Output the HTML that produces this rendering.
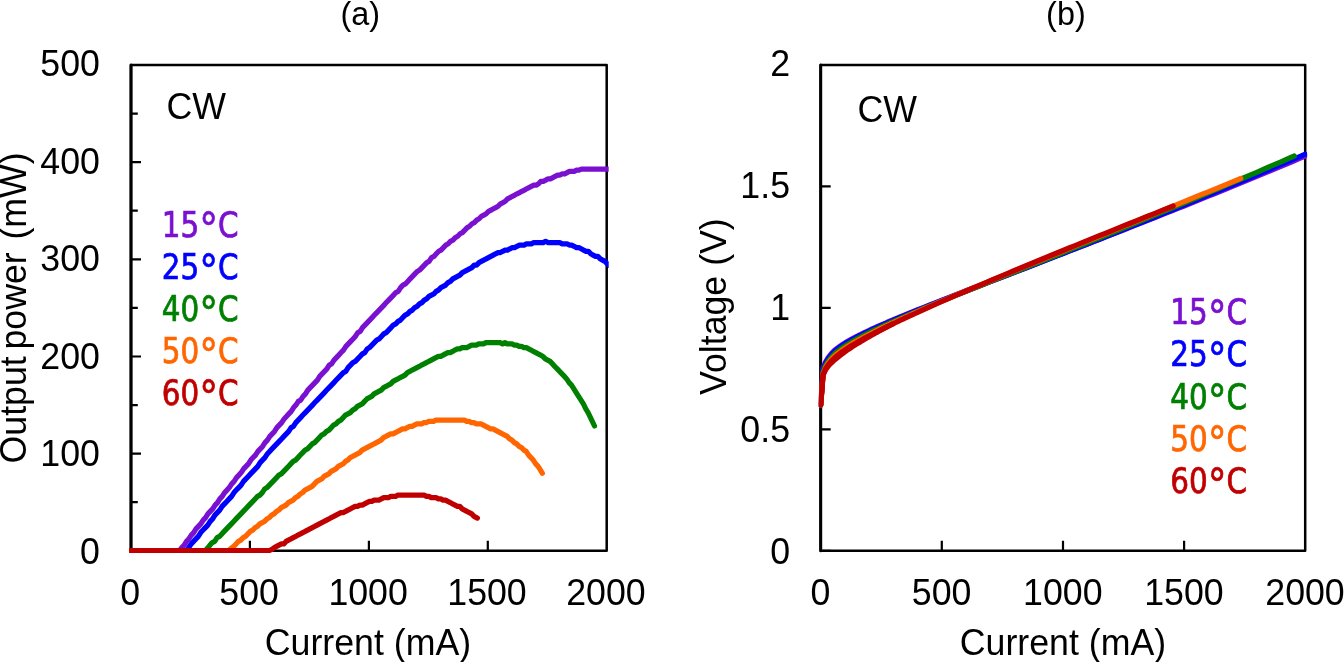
<!DOCTYPE html>
<html lang="en"><head><meta charset="utf-8"><title>L-I and V-I characteristics</title>
<style>html,body{margin:0;padding:0;background:#fff;overflow:hidden}svg{display:block}text{font-family:"Liberation Sans",sans-serif;fill:#000}.lg{font-family:"DejaVu Sans","Liberation Sans",sans-serif;font-stretch:condensed}</style></head><body>
<svg width="1344" height="662" viewBox="0 0 1344 662">
<rect width="1344" height="662" fill="#fff"/>
<defs><clipPath id="ca"><rect x="129.1" y="63.0" width="479.6" height="490.0"/></clipPath><clipPath id="cb"><rect x="818.8" y="63.0" width="488.4" height="490.0"/></clipPath></defs>
<g id="plot-a">
<rect x="131.0" y="65.0" width="475.7" height="485.8" fill="none" stroke="#000" stroke-width="2.5" stroke-linejoin="round"/>
<path d="M131.0,65.0V550.8" stroke="#000" stroke-width="3" stroke-linecap="round" fill="none"/>
<path d="M131.0,550.8h10.0M131.0,453.6h10.0M131.0,356.5h10.0M131.0,259.3h10.0M131.0,162.2h10.0M131.0,65.0h10.0M131.0,502.2h6.8M131.0,405.1h6.8M131.0,307.9h6.8M131.0,210.7h6.8M131.0,113.6h6.8M249.9,550.8v-10.0M368.9,550.8v-10.0M487.8,550.8v-10.0" stroke="#000" stroke-width="2.2" fill="none"/>
<text transform="translate(99.9,563.9) scale(0.945,1)" font-size="37.8" text-anchor="end">0</text>
<text transform="translate(99.9,466.4) scale(0.945,1)" font-size="37.8" text-anchor="end">100</text>
<text transform="translate(99.9,368.9) scale(0.945,1)" font-size="37.8" text-anchor="end">200</text>
<text transform="translate(99.9,271.3) scale(0.945,1)" font-size="37.8" text-anchor="end">300</text>
<text transform="translate(99.9,173.8) scale(0.945,1)" font-size="37.8" text-anchor="end">400</text>
<text transform="translate(99.9,76.3) scale(0.945,1)" font-size="37.8" text-anchor="end">500</text>
<text transform="translate(130.2,605.3) scale(0.945,1)" font-size="37.8" text-anchor="middle">0</text>
<text transform="translate(249.1,605.3) scale(0.945,1)" font-size="37.8" text-anchor="middle">500</text>
<text transform="translate(368.1,605.3) scale(0.945,1)" font-size="37.8" text-anchor="middle">1000</text>
<text transform="translate(487.0,605.3) scale(0.945,1)" font-size="37.8" text-anchor="middle">1500</text>
<text transform="translate(605.9,605.3) scale(0.945,1)" font-size="37.8" text-anchor="middle">2000</text>
<text transform="translate(368.0,654.8) scale(0.945,1)" font-size="37.8" text-anchor="middle">Current (mA)</text>
<text transform="translate(26.0,463.5) rotate(-90) scale(0.945,1)" font-size="37.8">Output<tspan dx="-3.4"> power</tspan><tspan dx="3.0"> (mW)</tspan></text>
<text transform="translate(360.3,25.4) scale(1.0,1)" font-size="32.4" text-anchor="middle">(a)</text>
<text transform="translate(166.4,118.6) scale(0.945,1)" font-size="37.8">CW</text>
<g clip-path="url(#ca)" fill="none" stroke-width="5.2" stroke-linejoin="round" stroke-linecap="round">
<path d="M126.0,550.5 L179.4,550.5 L181.8,547.5 L184.2,545.1 L186.5,541.4 L188.9,538.9 L191.3,535.1 L193.7,532.6 L196.0,528.9 L198.4,526.4 L200.8,523.9 L203.2,520.1 L205.6,517.6 L207.9,513.9 L210.3,511.4 L212.7,508.9 L215.1,505.1 L217.5,502.6 L219.8,498.9 L222.2,496.4 L224.6,492.6 L227.0,490.1 L229.3,487.6 L231.7,483.9 L234.1,481.4 L236.5,477.6 L238.9,475.1 L241.2,472.6 L243.6,468.9 L246.0,466.4 L248.4,463.9 L250.8,460.1 L253.1,457.6 L255.5,455.1 L257.9,451.4 L260.3,448.9 L262.6,446.4 L265.0,442.6 L267.4,440.1 L269.8,436.4 L272.2,433.9 L274.5,431.4 L276.9,427.6 L279.3,425.1 L281.7,422.6 L284.1,418.9 L286.4,416.4 L288.8,413.9 L291.2,411.4 L293.6,407.6 L295.9,405.1 L298.3,401.4 L300.7,400.1 L303.1,396.4 L305.5,393.9 L307.8,390.1 L310.2,387.6 L312.6,385.1 L315.0,382.6 L317.4,380.1 L319.7,376.4 L322.1,373.9 L324.5,371.4 L326.9,368.9 L329.2,365.1 L331.6,363.9 L334.0,360.1 L336.4,357.6 L338.8,355.1 L341.1,352.6 L343.5,350.1 L345.9,346.4 L348.3,343.9 L350.7,341.4 L353.0,338.9 L355.4,336.4 L357.8,332.6 L360.2,331.4 L362.5,327.6 L364.9,325.1 L367.3,322.6 L369.7,320.1 L372.1,317.6 L374.4,315.1 L376.8,312.6 L379.2,310.1 L381.6,307.6 L384.0,305.1 L386.3,302.6 L388.7,300.1 L391.1,297.6 L393.5,295.1 L395.8,292.6 L398.2,291.4 L400.6,287.6 L403.0,285.1 L405.4,283.9 L407.7,281.4 L410.1,278.9 L412.5,276.4 L414.9,273.9 L417.3,271.4 L419.6,270.1 L422.0,267.6 L424.4,265.1 L426.8,262.6 L429.1,261.4 L431.5,257.6 L433.9,256.4 L436.3,253.8 L438.7,251.3 L441.0,250.1 L443.4,247.6 L445.8,245.1 L448.2,243.8 L450.5,241.3 L452.9,240.1 L455.3,237.6 L457.7,236.3 L460.1,233.8 L462.4,232.6 L464.8,230.1 L467.2,227.6 L469.6,226.3 L472.0,223.8 L474.3,222.6 L476.7,220.1 L479.1,218.8 L481.5,216.3 L483.8,215.1 L486.2,213.8 L488.6,211.3 L491.0,210.1 L493.4,208.8 L495.7,207.6 L498.1,206.3 L500.5,203.8 L502.9,202.6 L505.3,201.3 L507.6,198.8 L510.0,197.6 L512.4,196.3 L514.8,195.1 L517.1,193.8 L519.5,192.6 L521.9,191.3 L524.3,190.1 L526.7,188.8 L529.0,187.6 L531.4,186.3 L533.8,185.1 L536.2,185.1 L538.6,183.8 L540.9,181.3 L543.3,181.3 L545.7,180.1 L548.1,178.8 L550.4,178.8 L552.8,177.6 L555.2,176.3 L557.6,175.1 L560.0,175.1 L562.3,173.8 L564.7,173.8 L567.1,172.6 L569.5,171.3 L571.9,171.3 L574.2,171.3 L576.6,170.1 L579.0,170.1 L581.4,169.1 L583.7,169.1 L586.1,169.1 L588.5,169.1 L590.9,169.1 L593.3,169.1 L595.6,169.1 L598.0,169.1 L600.4,169.1 L602.8,169.1 L605.2,169.1 L607.5,169.1 L609.7,169.1" stroke="#7a10d0"/>
<path d="M126.0,550.5 L186.4,550.5 L188.8,547.5 L191.2,543.9 L193.5,541.4 L195.9,538.9 L198.3,536.4 L200.7,532.6 L203.0,530.1 L205.4,527.6 L207.8,525.1 L210.2,521.4 L212.6,518.9 L214.9,515.1 L217.3,512.6 L219.7,510.1 L222.1,506.4 L224.5,503.9 L226.8,501.4 L229.2,498.9 L231.6,496.4 L234.0,492.6 L236.3,490.1 L238.7,487.6 L241.1,485.1 L243.5,481.4 L245.9,478.9 L248.2,476.4 L250.6,473.9 L253.0,471.4 L255.4,468.9 L257.8,466.4 L260.1,462.6 L262.5,460.1 L264.9,457.6 L267.3,453.9 L269.6,451.4 L272.0,448.9 L274.4,446.4 L276.8,443.9 L279.2,441.4 L281.5,438.9 L283.9,436.4 L286.3,433.9 L288.7,431.4 L291.1,427.6 L293.4,426.4 L295.8,422.6 L298.2,420.1 L300.6,417.6 L302.9,415.1 L305.3,412.6 L307.7,410.1 L310.1,407.6 L312.5,405.1 L314.8,402.6 L317.2,400.1 L319.6,397.6 L322.0,395.1 L324.4,392.6 L326.7,390.1 L329.1,387.6 L331.5,385.1 L333.9,382.6 L336.2,380.1 L338.6,377.6 L341.0,375.1 L343.4,372.6 L345.8,371.4 L348.1,367.6 L350.5,365.1 L352.9,362.6 L355.3,361.4 L357.7,358.9 L360.0,356.4 L362.4,353.9 L364.8,352.6 L367.2,348.9 L369.5,347.6 L371.9,345.1 L374.3,342.6 L376.7,340.1 L379.1,338.9 L381.4,336.4 L383.8,333.9 L386.2,332.6 L388.6,330.1 L391.0,327.6 L393.3,325.1 L395.7,323.9 L398.1,321.4 L400.5,320.1 L402.8,317.6 L405.2,315.1 L407.6,313.9 L410.0,311.4 L412.4,310.1 L414.7,307.6 L417.1,306.4 L419.5,303.9 L421.9,302.6 L424.3,300.1 L426.6,298.9 L429.0,296.4 L431.4,295.1 L433.8,293.9 L436.1,291.4 L438.5,290.1 L440.9,287.6 L443.3,286.4 L445.7,285.1 L448.0,282.6 L450.4,281.4 L452.8,278.9 L455.2,277.6 L457.5,276.4 L459.9,275.1 L462.3,272.6 L464.7,271.4 L467.1,270.1 L469.4,268.9 L471.8,267.6 L474.2,265.1 L476.6,265.1 L479.0,262.6 L481.3,261.4 L483.7,260.1 L486.1,258.9 L488.5,257.6 L490.8,256.4 L493.2,255.1 L495.6,253.8 L498.0,252.6 L500.4,252.6 L502.7,251.3 L505.1,250.1 L507.5,250.1 L509.9,248.8 L512.3,247.6 L514.6,247.6 L517.0,246.3 L519.4,245.1 L521.8,245.1 L524.1,245.1 L526.5,243.8 L528.9,243.8 L531.3,243.8 L533.7,242.6 L536.0,242.6 L538.4,242.6 L540.8,242.6 L543.2,242.6 L545.6,241.3 L547.9,242.6 L550.3,242.6 L552.7,242.6 L555.1,242.6 L557.4,242.6 L559.8,242.6 L562.2,243.8 L564.6,243.8 L567.0,243.8 L569.3,245.1 L571.7,245.1 L574.1,246.3 L576.5,247.6 L578.9,247.6 L581.2,248.8 L583.6,250.1 L586.0,251.3 L588.4,251.3 L590.7,253.8 L593.1,255.1 L595.5,256.4 L597.9,256.4 L600.3,258.9 L602.6,260.1 L605.0,261.4 L607.4,263.9 L609.7,265.5" stroke="#0000ff"/>
<path d="M126.0,550.5 L205.2,550.5 L207.6,548.1 L210.0,545.1 L212.3,542.6 L214.7,541.4 L217.1,537.6 L219.5,536.4 L221.8,533.9 L224.2,531.4 L226.6,528.9 L229.0,526.4 L231.4,523.9 L233.7,521.4 L236.1,518.9 L238.5,516.4 L240.9,513.9 L243.3,511.4 L245.6,508.9 L248.0,506.4 L250.4,503.9 L252.8,501.4 L255.1,498.9 L257.5,496.4 L259.9,495.1 L262.3,492.6 L264.7,488.9 L267.0,487.6 L269.4,485.1 L271.8,482.6 L274.2,480.1 L276.6,477.6 L278.9,475.1 L281.3,473.9 L283.7,471.4 L286.1,468.9 L288.4,466.4 L290.8,463.9 L293.2,461.4 L295.6,460.1 L298.0,457.6 L300.3,455.1 L302.7,452.6 L305.1,450.1 L307.5,448.9 L309.9,446.4 L312.2,443.9 L314.6,442.6 L317.0,440.1 L319.4,437.6 L321.7,435.1 L324.1,433.9 L326.5,431.4 L328.9,430.1 L331.3,427.6 L333.6,425.1 L336.0,423.9 L338.4,421.4 L340.8,420.1 L343.2,417.6 L345.5,415.1 L347.9,413.9 L350.3,412.6 L352.7,410.1 L355.0,408.9 L357.4,406.4 L359.8,405.1 L362.2,403.9 L364.6,401.4 L366.9,398.9 L369.3,397.6 L371.7,396.4 L374.1,393.9 L376.5,392.6 L378.8,391.4 L381.2,390.1 L383.6,387.6 L386.0,386.4 L388.3,385.1 L390.7,383.9 L393.1,381.4 L395.5,380.1 L397.9,378.9 L400.2,377.6 L402.6,376.4 L405.0,375.1 L407.4,372.6 L409.8,371.4 L412.1,370.1 L414.5,368.9 L416.9,367.6 L419.3,366.4 L421.6,365.1 L424.0,363.9 L426.4,362.6 L428.8,361.4 L431.2,360.1 L433.5,358.9 L435.9,357.6 L438.3,356.4 L440.7,356.4 L443.1,355.1 L445.4,353.9 L447.8,352.6 L450.2,352.6 L452.6,351.4 L454.9,350.1 L457.3,348.9 L459.7,348.9 L462.1,347.6 L464.5,347.6 L466.8,347.6 L469.2,346.4 L471.6,345.1 L474.0,345.1 L476.3,345.1 L478.7,343.9 L481.1,343.9 L483.5,343.9 L485.9,342.6 L488.2,342.6 L490.6,342.6 L493.0,342.6 L495.4,342.6 L497.8,342.6 L500.1,342.6 L502.5,343.9 L504.9,342.6 L507.3,343.9 L509.6,343.9 L512.0,343.9 L514.4,345.1 L516.8,345.1 L519.2,346.4 L521.5,346.4 L523.9,347.6 L526.3,347.6 L528.7,348.9 L531.1,350.1 L533.4,351.4 L535.8,352.6 L538.2,353.9 L540.6,355.1 L542.9,356.4 L545.3,358.9 L547.7,360.1 L550.1,361.4 L552.5,363.9 L554.8,366.4 L557.2,368.9 L559.6,371.4 L562.0,373.9 L564.4,376.4 L566.7,378.9 L569.1,382.6 L571.5,385.1 L573.9,388.9 L576.2,392.6 L578.6,396.4 L581.0,400.1 L583.4,403.9 L585.8,408.9 L588.1,412.6 L590.5,417.6 L592.9,422.6 L594.5,426.0" stroke="#008000"/>
<path d="M126.0,550.5 L228.9,550.5 L231.3,548.2 L233.7,546.4 L236.0,543.9 L238.4,541.4 L240.8,540.1 L243.2,537.6 L245.5,536.4 L247.9,533.9 L250.3,531.4 L252.7,530.1 L255.1,527.6 L257.4,526.4 L259.8,523.9 L262.2,522.6 L264.6,521.4 L267.0,518.9 L269.3,517.6 L271.7,515.1 L274.1,513.9 L276.5,511.4 L278.8,510.1 L281.2,507.6 L283.6,506.4 L286.0,505.1 L288.4,502.6 L290.7,501.4 L293.1,500.1 L295.5,497.6 L297.9,496.4 L300.3,493.9 L302.6,492.6 L305.0,490.1 L307.4,488.9 L309.8,487.6 L312.1,486.4 L314.5,483.9 L316.9,481.4 L319.3,480.1 L321.7,478.9 L324.0,476.4 L326.4,475.1 L328.8,473.9 L331.2,471.4 L333.6,470.1 L335.9,468.9 L338.3,466.4 L340.7,465.1 L343.1,463.9 L345.4,461.4 L347.8,460.1 L350.2,457.6 L352.6,456.4 L355.0,455.1 L357.3,453.9 L359.7,452.6 L362.1,450.1 L364.5,448.9 L366.9,447.6 L369.2,446.4 L371.6,445.1 L374.0,443.9 L376.4,442.6 L378.7,441.4 L381.1,440.1 L383.5,437.6 L385.9,436.4 L388.3,435.1 L390.6,433.9 L393.0,433.9 L395.4,432.6 L397.8,431.4 L400.2,430.1 L402.5,428.9 L404.9,428.9 L407.3,427.6 L409.7,426.4 L412.0,426.4 L414.4,425.1 L416.8,423.9 L419.2,423.9 L421.6,423.9 L423.9,422.6 L426.3,422.6 L428.7,421.4 L431.1,421.4 L433.5,421.4 L435.8,420.1 L438.2,420.1 L440.6,420.1 L443.0,420.1 L445.3,420.1 L447.7,420.1 L450.1,420.1 L452.5,420.1 L454.9,420.1 L457.2,420.1 L459.6,420.1 L462.0,420.1 L464.4,420.1 L466.8,421.4 L469.1,421.4 L471.5,422.6 L473.9,422.6 L476.3,423.9 L478.6,423.9 L481.0,423.9 L483.4,425.1 L485.8,426.4 L488.2,427.6 L490.5,428.9 L492.9,428.9 L495.3,430.1 L497.7,431.4 L500.0,432.6 L502.4,433.9 L504.8,435.1 L507.2,436.4 L509.6,438.9 L511.9,440.1 L514.3,442.6 L516.7,443.9 L519.1,446.4 L521.5,447.6 L523.8,450.1 L526.2,451.4 L528.6,455.1 L531.0,457.6 L533.3,460.1 L535.7,463.9 L538.1,466.4 L540.5,470.1 L542.4,473.3" stroke="#ff6600"/>
<path d="M126.0,550.5 L269.5,550.5 L271.9,549.3 L274.3,547.6 L276.6,546.4 L279.0,545.1 L281.4,543.9 L283.8,543.9 L286.1,541.4 L288.5,540.1 L290.9,538.9 L293.3,537.6 L295.7,536.4 L298.0,535.1 L300.4,533.9 L302.8,532.6 L305.2,531.4 L307.6,530.1 L309.9,528.9 L312.3,527.6 L314.7,526.4 L317.1,525.1 L319.4,523.9 L321.8,522.6 L324.2,521.4 L326.6,520.1 L329.0,518.9 L331.3,517.6 L333.7,516.4 L336.1,515.1 L338.5,513.9 L340.9,512.6 L343.2,512.6 L345.6,511.4 L348.0,510.1 L350.4,508.9 L352.7,507.6 L355.1,506.4 L357.5,506.4 L359.9,505.1 L362.3,505.1 L364.6,503.9 L367.0,502.6 L369.4,501.4 L371.8,501.4 L374.2,500.1 L376.5,500.1 L378.9,500.1 L381.3,498.9 L383.7,497.6 L386.0,497.6 L388.4,497.6 L390.8,496.4 L393.2,496.4 L395.6,496.4 L397.9,495.1 L400.3,495.1 L402.7,495.1 L405.1,495.1 L407.5,495.1 L409.8,495.1 L412.2,495.1 L414.6,495.1 L417.0,495.1 L419.3,495.1 L421.7,495.1 L424.1,495.1 L426.5,496.4 L428.9,496.4 L431.2,497.6 L433.6,497.6 L436.0,497.6 L438.4,498.9 L440.8,498.9 L443.1,500.1 L445.5,500.1 L447.9,501.4 L450.3,502.6 L452.6,503.9 L455.0,505.1 L457.4,506.4 L459.8,506.4 L462.2,508.9 L464.5,510.1 L466.9,511.4 L469.3,512.6 L471.7,513.9 L474.1,516.4 L476.4,517.6 L477.4,518.1" stroke="#c00000"/>
</g>
<text transform="translate(161.7,236.8) scale(0.94,1)" font-size="34.8" class="lg" style="fill:#7a10d0;stroke:#7a10d0;stroke-width:0.7">15<tspan font-size="44.5" dy="7.2">°</tspan><tspan dy="-7.2">C</tspan></text>
<text transform="translate(161.7,278.9) scale(0.94,1)" font-size="34.8" class="lg" style="fill:#0000ff;stroke:#0000ff;stroke-width:0.7">25<tspan font-size="44.5" dy="7.2">°</tspan><tspan dy="-7.2">C</tspan></text>
<text transform="translate(161.7,321.0) scale(0.94,1)" font-size="34.8" class="lg" style="fill:#008000;stroke:#008000;stroke-width:0.7">40<tspan font-size="44.5" dy="7.2">°</tspan><tspan dy="-7.2">C</tspan></text>
<text transform="translate(161.7,363.1) scale(0.94,1)" font-size="34.8" class="lg" style="fill:#ff6600;stroke:#ff6600;stroke-width:0.7">50<tspan font-size="44.5" dy="7.2">°</tspan><tspan dy="-7.2">C</tspan></text>
<text transform="translate(161.7,405.2) scale(0.94,1)" font-size="34.8" class="lg" style="fill:#c00000;stroke:#c00000;stroke-width:0.7">60<tspan font-size="44.5" dy="7.2">°</tspan><tspan dy="-7.2">C</tspan></text>
</g>
<g id="plot-b">
<rect x="820.7" y="65.0" width="484.5" height="485.8" fill="none" stroke="#000" stroke-width="2.5" stroke-linejoin="round"/>
<path d="M820.7,65.0V550.8" stroke="#000" stroke-width="3" stroke-linecap="round" fill="none"/>
<path d="M820.7,550.8h10.0M820.7,429.3h10.0M820.7,307.9h10.0M820.7,186.4h10.0M820.7,65.0h10.0M941.8,550.8v-10.0M1063.0,550.8v-10.0M1184.1,550.8v-10.0" stroke="#000" stroke-width="2.2" fill="none"/>
<text transform="translate(790.0,563.9) scale(0.945,1)" font-size="37.8" text-anchor="end">0</text>
<text transform="translate(790.0,442.0) scale(0.945,1)" font-size="37.8" text-anchor="end">0.5</text>
<text transform="translate(790.0,320.1) scale(0.945,1)" font-size="37.8" text-anchor="end">1</text>
<text transform="translate(790.0,198.2) scale(0.945,1)" font-size="37.8" text-anchor="end">1.5</text>
<text transform="translate(790.0,76.3) scale(0.945,1)" font-size="37.8" text-anchor="end">2</text>
<text transform="translate(820.5,605.2) scale(0.945,1)" font-size="37.8" text-anchor="middle">0</text>
<text transform="translate(941.6,605.2) scale(0.945,1)" font-size="37.8" text-anchor="middle">500</text>
<text transform="translate(1062.8,605.2) scale(0.945,1)" font-size="37.8" text-anchor="middle">1000</text>
<text transform="translate(1183.9,605.2) scale(0.945,1)" font-size="37.8" text-anchor="middle">1500</text>
<text transform="translate(1305.0,605.2) scale(0.945,1)" font-size="37.8" text-anchor="middle">2000</text>
<text transform="translate(1063.0,654.8) scale(0.945,1)" font-size="37.8" text-anchor="middle">Current (mA)</text>
<text transform="translate(726.1,306.6) rotate(-90) scale(0.945,1)" font-size="37.8" text-anchor="middle">Voltage (V)</text>
<text transform="translate(1065.9,25.4) scale(1.0,1)" font-size="32.4" text-anchor="middle">(b)</text>
<text transform="translate(857.4,121.8) scale(0.945,1)" font-size="37.8">CW</text>
<g clip-path="url(#cb)" fill="none" stroke-width="5.2" stroke-linejoin="round" stroke-linecap="round">
<path d="M820.7,405.1 L823.1,368.1 L825.5,362.0 L828.0,357.9 L830.4,354.8 L832.8,352.1 L835.2,349.7 L837.7,347.8 L840.1,346.1 L842.5,344.5 L844.9,343.0 L847.3,341.5 L849.8,340.1 L852.2,338.8 L854.6,337.5 L857.0,336.3 L859.5,335.0 L861.9,333.8 L864.3,332.6 L866.7,331.5 L869.2,330.4 L871.6,329.2 L874.0,328.1 L876.4,327.0 L878.8,326.0 L881.3,324.9 L883.7,323.8 L886.1,322.8 L888.5,321.7 L891.0,320.7 L893.4,319.7 L895.8,318.7 L898.2,317.7 L900.6,316.7 L903.1,315.7 L905.5,314.7 L907.9,313.7 L910.3,312.7 L912.8,311.7 L915.2,310.7 L917.6,309.8 L923.7,307.4 L929.7,305.0 L935.8,302.6 L941.8,300.2 L947.9,297.8 L953.9,295.5 L960.0,293.1 L966.1,290.8 L972.1,288.5 L978.2,286.1 L984.2,283.8 L990.3,281.5 L996.3,279.2 L1002.4,276.8 L1008.4,274.5 L1014.5,272.2 L1020.6,269.9 L1026.6,267.5 L1032.7,265.2 L1038.7,262.9 L1044.8,260.6 L1050.8,258.2 L1056.9,255.9 L1063.0,253.6 L1069.0,251.2 L1075.1,248.9 L1081.1,246.5 L1087.2,244.2 L1093.2,241.8 L1099.3,239.5 L1105.3,237.1 L1111.4,234.7 L1117.5,232.4 L1123.5,230.0 L1129.6,227.6 L1135.6,225.2 L1141.7,222.8 L1147.7,220.4 L1153.8,218.0 L1159.8,215.6 L1165.9,213.2 L1172.0,210.8 L1178.0,208.4 L1184.1,206.0 L1190.1,203.5 L1196.2,201.1 L1202.2,198.7 L1208.3,196.2 L1214.4,193.8 L1220.4,191.3 L1226.5,188.8 L1232.5,186.4 L1238.6,183.9 L1244.6,181.4 L1250.7,178.9 L1256.8,176.4 L1262.8,173.9 L1268.9,171.4 L1274.9,168.9 L1281.0,166.4 L1287.0,163.8 L1293.1,161.3 L1299.1,158.7 L1305.2,156.2" stroke="#7a10d0"/>
<path d="M820.7,405.1 L823.1,369.7 L825.5,363.3 L828.0,359.2 L830.4,355.9 L832.8,353.2 L835.2,350.7 L837.7,348.8 L840.1,347.0 L842.5,345.4 L844.9,343.8 L847.3,342.3 L849.8,340.9 L852.2,339.5 L854.6,338.2 L857.0,336.9 L859.5,335.7 L861.9,334.5 L864.3,333.3 L866.7,332.1 L869.2,331.0 L871.6,329.8 L874.0,328.7 L876.4,327.6 L878.8,326.5 L881.3,325.4 L883.7,324.4 L886.1,323.3 L888.5,322.3 L891.0,321.2 L893.4,320.2 L895.8,319.2 L898.2,318.2 L900.6,317.1 L903.1,316.1 L905.5,315.1 L907.9,314.1 L910.3,313.1 L912.8,312.2 L915.2,311.2 L917.6,310.2 L923.7,307.8 L929.7,305.4 L935.8,303.0 L941.8,300.6 L947.9,298.2 L953.9,295.8 L960.0,293.5 L966.1,291.1 L972.1,288.8 L978.2,286.4 L984.2,284.1 L990.3,281.7 L996.3,279.4 L1002.4,277.0 L1008.4,274.7 L1014.5,272.4 L1020.6,270.0 L1026.6,267.7 L1032.7,265.3 L1038.7,263.0 L1044.8,260.6 L1050.8,258.3 L1056.9,255.9 L1063.0,253.6 L1069.0,251.2 L1075.1,248.8 L1081.1,246.4 L1087.2,244.1 L1093.2,241.7 L1099.3,239.3 L1105.3,236.9 L1111.4,234.5 L1117.5,232.1 L1123.5,229.7 L1129.6,227.2 L1135.6,224.8 L1141.7,222.4 L1147.7,220.0 L1153.8,217.5 L1159.8,215.1 L1165.9,212.6 L1172.0,210.1 L1178.0,207.7 L1184.1,205.2 L1190.1,202.7 L1196.2,200.2 L1202.2,197.7 L1208.3,195.2 L1214.4,192.7 L1220.4,190.2 L1226.5,187.7 L1232.5,185.2 L1238.6,182.6 L1244.6,180.1 L1250.7,177.5 L1256.8,175.0 L1262.8,172.4 L1268.9,169.8 L1274.9,167.2 L1281.0,164.6 L1287.0,162.0 L1293.1,159.4 L1299.1,156.8 L1305.2,154.2" stroke="#0000ff"/>
<path d="M820.7,405.1 L823.1,372.0 L825.5,365.6 L828.0,361.4 L830.4,358.2 L832.8,355.5 L835.2,353.1 L837.7,351.1 L840.1,349.2 L842.5,347.5 L844.9,345.9 L847.3,344.4 L849.8,342.9 L852.2,341.5 L854.6,340.1 L857.0,338.8 L859.5,337.5 L861.9,336.2 L864.3,335.0 L866.7,333.8 L869.2,332.6 L871.6,331.4 L874.0,330.2 L876.4,329.1 L878.8,328.0 L881.3,326.9 L883.7,325.7 L886.1,324.7 L888.5,323.6 L891.0,322.5 L893.4,321.4 L895.8,320.4 L898.2,319.3 L900.6,318.3 L903.1,317.2 L905.5,316.2 L907.9,315.1 L910.3,314.1 L912.8,313.1 L915.2,312.1 L917.6,311.1 L923.7,308.5 L929.7,306.0 L935.8,303.6 L941.8,301.1 L947.9,298.6 L953.9,296.2 L960.0,293.7 L966.1,291.3 L972.1,288.9 L978.2,286.5 L984.2,284.0 L990.3,281.6 L996.3,279.2 L1002.4,276.8 L1008.4,274.4 L1014.5,272.0 L1020.6,269.6 L1026.6,267.1 L1032.7,264.7 L1038.7,262.3 L1044.8,259.9 L1050.8,257.5 L1056.9,255.0 L1063.0,252.6 L1069.0,250.2 L1075.1,247.7 L1081.1,245.3 L1087.2,242.9 L1093.2,240.4 L1099.3,238.0 L1105.3,235.5 L1111.4,233.0 L1117.5,230.6 L1123.5,228.1 L1129.6,225.6 L1135.6,223.1 L1141.7,220.7 L1147.7,218.2 L1153.8,215.7 L1159.8,213.2 L1165.9,210.7 L1172.0,208.1 L1178.0,205.6 L1184.1,203.1 L1190.1,200.6 L1196.2,198.0 L1202.2,195.5 L1208.3,192.9 L1214.4,190.4 L1220.4,187.8 L1226.5,185.2 L1232.5,182.6 L1238.6,180.0 L1244.6,177.5 L1250.7,174.9 L1256.8,172.3 L1262.8,169.6 L1268.9,167.0 L1274.9,164.4 L1281.0,161.8 L1287.0,159.1 L1293.1,156.5 L1294.3,155.9" stroke="#008000"/>
<path d="M820.7,405.1 L823.1,373.6 L825.5,367.4 L828.0,363.4 L830.4,360.3 L832.8,357.7 L835.2,355.4 L837.7,353.4 L840.1,351.5 L842.5,349.7 L844.9,348.1 L847.3,346.5 L849.8,345.0 L852.2,343.5 L854.6,342.1 L857.0,340.7 L859.5,339.4 L861.9,338.0 L864.3,336.8 L866.7,335.5 L869.2,334.2 L871.6,333.0 L874.0,331.8 L876.4,330.6 L878.8,329.4 L881.3,328.2 L883.7,327.1 L886.1,325.9 L888.5,324.8 L891.0,323.6 L893.4,322.5 L895.8,321.4 L898.2,320.3 L900.6,319.2 L903.1,318.1 L905.5,317.0 L907.9,315.9 L910.3,314.8 L912.8,313.7 L915.2,312.7 L917.6,311.6 L923.7,309.0 L929.7,306.3 L935.8,303.7 L941.8,301.1 L947.9,298.6 L953.9,296.0 L960.0,293.4 L966.1,290.9 L972.1,288.4 L978.2,285.9 L984.2,283.4 L990.3,280.8 L996.3,278.3 L1002.4,275.8 L1008.4,273.4 L1014.5,270.9 L1020.6,268.4 L1026.6,265.9 L1032.7,263.4 L1038.7,261.0 L1044.8,258.5 L1050.8,256.0 L1056.9,253.5 L1063.0,251.1 L1069.0,248.6 L1075.1,246.1 L1081.1,243.7 L1087.2,241.2 L1093.2,238.8 L1099.3,236.3 L1105.3,233.8 L1111.4,231.4 L1117.5,228.9 L1123.5,226.4 L1129.6,224.0 L1135.6,221.5 L1141.7,219.0 L1147.7,216.5 L1153.8,214.1 L1159.8,211.6 L1165.9,209.1 L1172.0,206.7 L1178.0,204.2 L1184.1,201.7 L1190.1,199.2 L1196.2,196.7 L1202.2,194.2 L1208.3,191.8 L1214.4,189.3 L1220.4,186.8 L1226.5,184.3 L1232.5,181.8 L1238.6,179.3 L1240.8,178.4" stroke="#ff6600"/>
<path d="M820.7,405.1 L823.1,375.3 L825.5,369.9 L828.0,366.4 L830.4,363.8 L832.8,361.5 L835.2,359.4 L837.7,357.4 L840.1,355.5 L842.5,353.6 L844.9,351.8 L847.3,350.2 L849.8,348.5 L852.2,346.9 L854.6,345.4 L857.0,343.9 L859.5,342.4 L861.9,340.9 L864.3,339.5 L866.7,338.1 L869.2,336.7 L871.6,335.3 L874.0,334.0 L876.4,332.6 L878.8,331.3 L881.3,330.0 L883.7,328.7 L886.1,327.4 L888.5,326.1 L891.0,324.8 L893.4,323.6" stroke="#c00000"/>
<path d="M820.7,405.1 L823.1,374.8 L825.5,368.9 L828.0,365.1 L830.4,362.1 L832.8,359.6 L835.2,357.3 L837.7,355.3 L840.1,353.4 L842.5,351.7 L844.9,350.0 L847.3,348.4 L849.8,346.8 L852.2,345.3 L854.6,343.9 L857.0,342.5 L859.5,341.1 L861.9,339.7 L864.3,338.4 L866.7,337.1 L869.2,335.8 L871.6,334.5 L874.0,333.2 L876.4,332.0 L878.8,330.8 L881.3,329.6 L883.7,328.4 L886.1,327.2 L888.5,326.0 L891.0,324.8 L893.4,323.6 L895.8,322.5 L898.2,321.3 L900.6,320.2 L903.1,319.1 L905.5,317.9 L907.9,316.8 L910.3,315.7 L912.8,314.6 L915.2,313.5 L917.6,312.4 L923.7,309.6 L929.7,306.9 L935.8,304.2 L941.8,301.5 L947.9,298.9 L953.9,296.2 L960.0,293.6 L966.1,291.0 L972.1,288.4 L978.2,285.8 L984.2,283.3 L990.3,280.7 L996.3,278.1 L1002.4,275.6 L1008.4,273.1 L1014.5,270.5 L1020.6,268.0 L1026.6,265.5 L1032.7,263.0 L1038.7,260.5 L1044.8,258.0 L1050.8,255.5 L1056.9,253.0 L1063.0,250.5 L1069.0,248.0 L1075.1,245.6 L1081.1,243.1 L1087.2,240.6 L1093.2,238.2 L1099.3,235.7 L1105.3,233.3 L1111.4,230.8 L1117.5,228.4 L1123.5,225.9 L1129.6,223.5 L1135.6,221.1 L1141.7,218.6 L1147.7,216.2 L1153.8,213.8 L1159.8,211.3 L1165.9,208.9 L1172.0,206.5 L1173.2,206.0" stroke="#c00000"/>
</g>
<text transform="translate(1170.2,324.3) scale(0.94,1)" font-size="34.8" class="lg" style="fill:#7a10d0;stroke:#7a10d0;stroke-width:0.7">15<tspan font-size="44.5" dy="7.2">°</tspan><tspan dy="-7.2">C</tspan></text>
<text transform="translate(1170.2,366.4) scale(0.94,1)" font-size="34.8" class="lg" style="fill:#0000ff;stroke:#0000ff;stroke-width:0.7">25<tspan font-size="44.5" dy="7.2">°</tspan><tspan dy="-7.2">C</tspan></text>
<text transform="translate(1170.2,408.5) scale(0.94,1)" font-size="34.8" class="lg" style="fill:#008000;stroke:#008000;stroke-width:0.7">40<tspan font-size="44.5" dy="7.2">°</tspan><tspan dy="-7.2">C</tspan></text>
<text transform="translate(1170.2,450.6) scale(0.94,1)" font-size="34.8" class="lg" style="fill:#ff6600;stroke:#ff6600;stroke-width:0.7">50<tspan font-size="44.5" dy="7.2">°</tspan><tspan dy="-7.2">C</tspan></text>
<text transform="translate(1170.2,492.7) scale(0.94,1)" font-size="34.8" class="lg" style="fill:#c00000;stroke:#c00000;stroke-width:0.7">60<tspan font-size="44.5" dy="7.2">°</tspan><tspan dy="-7.2">C</tspan></text>
</g>
</svg></body></html>
